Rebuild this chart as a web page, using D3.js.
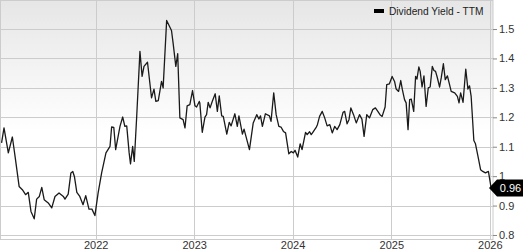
<!DOCTYPE html>
<html><head><meta charset="utf-8">
<script src="https://cdn.jsdelivr.net/npm/d3@7"></script>
<style>
html,body{margin:0;padding:0;background:#fff;}
svg{display:block;font-family:"Liberation Sans",Arial,Helvetica,sans-serif;}
</style></head>
<body>
<svg id="chart" width="527" height="250"></svg>
<script>
const seriesName = "Dividend Yield - TTM";
const lastLabel = "0.96";
const yTicks = [0.8, 0.9, 1.0, 1.1, 1.2, 1.3, 1.4, 1.5];
const xTickYears = ["2022", "2023", "2024", "2025", "2026"];
const dates = [
"2021-01-17","2021-01-26","2021-02-11","2021-02-26","2021-03-08","2021-03-23","2021-04-04","2021-04-16","2021-04-26","2021-05-06",
"2021-05-18","2021-05-27","2021-06-06","2021-06-15","2021-06-24","2021-07-09","2021-07-22","2021-08-03","2021-08-18","2021-09-03",
"2021-09-09","2021-09-21","2021-10-01","2021-10-08","2021-10-14","2021-10-23","2021-11-03","2021-11-15","2021-11-25","2021-12-07",
"2021-12-18","2021-12-29","2022-01-10","2022-01-23","2022-02-08","2022-02-23","2022-03-01","2022-03-09","2022-03-16","2022-04-01",
"2022-04-11","2022-04-19","2022-04-26","2022-05-05","2022-05-10","2022-05-18","2022-05-24","2022-06-02","2022-06-14","2022-06-22",
"2022-06-29","2022-07-12","2022-07-27","2022-08-05","2022-08-12","2022-08-21","2022-09-02","2022-09-08","2022-09-21","2022-10-09",
"2022-10-15","2022-10-25","2022-11-01","2022-11-09","2022-11-21","2022-11-28","2022-12-06","2022-12-16","2022-12-26","2023-01-04",
"2023-01-10","2023-01-20","2023-01-22","2023-01-31","2023-02-10","2023-02-16","2023-02-22","2023-03-01","2023-03-09","2023-03-20",
"2023-03-28","2023-04-04","2023-04-13","2023-04-19","2023-05-02","2023-05-11","2023-05-18","2023-06-01","2023-06-10","2023-06-16",
"2023-06-29","2023-07-05","2023-07-25","2023-08-08","2023-08-21","2023-08-29","2023-09-04","2023-09-11","2023-09-22","2023-10-07",
"2023-10-13","2023-10-23","2023-11-01","2023-11-11","2023-11-19","2023-11-28","2023-12-06","2023-12-18","2023-12-27","2024-01-04",
"2024-01-10","2024-01-20","2024-01-29","2024-02-05","2024-02-18","2024-02-24","2024-03-04","2024-03-10","2024-03-16","2024-03-29",
"2024-04-02","2024-04-10","2024-04-20","2024-04-29","2024-05-08","2024-05-18","2024-05-27","2024-06-05","2024-06-14","2024-06-24",
"2024-07-06","2024-07-12","2024-07-21","2024-07-28","2024-08-04","2024-08-14","2024-08-24","2024-09-05","2024-09-14","2024-09-22",
"2024-10-02","2024-10-12","2024-10-24","2024-11-03","2024-11-12","2024-11-20","2024-11-28","2024-12-09","2024-12-15","2024-12-25",
"2025-01-04","2025-01-13","2025-01-19","2025-01-28","2025-02-05","2025-02-11","2025-02-19","2025-02-25","2025-03-04","2025-03-10",
"2025-03-16","2025-03-25","2025-04-01","2025-04-06","2025-04-13","2025-04-18","2025-04-25","2025-05-02","2025-05-10","2025-05-18",
"2025-05-25","2025-06-02","2025-06-08","2025-06-14","2025-06-20","2025-06-29","2025-07-05","2025-07-13","2025-07-20","2025-07-28",
"2025-08-02","2025-08-11","2025-08-24","2025-09-03","2025-09-09","2025-09-15","2025-09-24","2025-10-04","2025-10-12","2025-10-18",
"2025-10-24","2025-11-03","2025-11-09","2025-11-18","2025-11-28","2025-12-06","2025-12-16","2025-12-27","2026-01-06"
];
const values = [
1.113,1.164,1.079,1.133,1.067,0.965,0.954,0.937,0.945,0.880,
0.855,0.922,0.931,0.962,0.920,0.909,0.892,0.931,0.943,0.931,
0.922,0.939,1.011,1.016,0.999,0.945,0.931,0.903,0.934,0.888,
0.888,0.866,0.943,1.011,1.079,1.101,1.167,1.166,1.090,1.169,
1.201,1.169,1.171,1.079,1.042,1.101,1.050,1.203,1.424,1.339,
1.373,1.387,1.266,1.296,1.254,1.257,1.322,1.300,1.529,1.495,
1.452,1.373,1.416,1.198,1.192,1.164,1.239,1.243,1.291,1.239,
1.235,1.254,1.249,1.149,1.201,1.209,1.251,1.232,1.254,1.280,
1.220,1.273,1.205,1.203,1.143,1.183,1.171,1.212,1.169,1.205,
1.143,1.160,1.090,1.181,1.209,1.194,1.205,1.169,1.212,1.205,
1.186,1.283,1.209,1.169,1.167,1.152,1.147,1.076,1.084,1.079,
1.088,1.065,1.110,1.090,1.149,1.141,1.151,1.141,1.149,1.167,
1.175,1.203,1.220,1.198,1.171,1.175,1.147,1.169,1.158,1.175,
1.217,1.220,1.178,1.192,1.232,1.209,1.181,1.209,1.194,1.135,
1.209,1.198,1.226,1.232,1.220,1.209,1.203,1.235,1.311,1.314,
1.339,1.322,1.296,1.288,1.325,1.294,1.260,1.249,1.158,1.260,
1.262,1.220,1.339,1.330,1.371,1.356,1.303,1.341,1.237,1.300,
1.303,1.373,1.359,1.356,1.337,1.303,1.334,1.382,1.328,1.341,
1.322,1.288,1.283,1.271,1.249,1.283,1.251,1.364,1.296,1.307,
1.271,1.121,1.110,1.069,1.022,1.016,1.011,1.016,0.960
];

const parse = d3.timeParse("%Y-%m-%d");
const data = dates.map((d, i) => ({date: parse(d), value: values[i]}));

const svg = d3.select("#chart");
const plot = {left: 0.5, right: 493, top: 0.5, bottom: 239.5};

const x = d3.scaleTime()
  .domain([parse("2021-01-13"), parse("2026-01-13")])
  .range([plot.left, plot.right]);
const y = d3.scaleLinear()
  .domain([0.7847, 1.597])
  .range([plot.bottom, plot.top]);

// background gradient
const defs = svg.append("defs");
const grad = defs.append("linearGradient").attr("id", "bg")
  .attr("x1", 0).attr("y1", 0).attr("x2", 0).attr("y2", 1);
grad.append("stop").attr("offset", "0%").attr("stop-color", "#e6e6e6");
grad.append("stop").attr("offset", "55%").attr("stop-color", "#ffffff");
grad.append("stop").attr("offset", "100%").attr("stop-color", "#ffffff");

svg.append("rect")
  .attr("x", plot.left).attr("y", plot.top)
  .attr("width", plot.right - plot.left).attr("height", plot.bottom - plot.top)
  .attr("fill", "url(#bg)");

// horizontal grid
svg.append("g").selectAll("line").data(yTicks).join("line")
  .attr("x1", plot.left).attr("x2", plot.right)
  .attr("y1", d => Math.round(y(d)) + 0.5).attr("y2", d => Math.round(y(d)) + 0.5)
  .attr("stroke", "#cccccc").attr("stroke-width", 1);

// vertical grid
const yearDates = xTickYears.map(s => parse(s + "-01-01"));
svg.append("g").selectAll("line").data(yearDates).join("line")
  .attr("x1", d => Math.round(x(d)) + 0.5).attr("x2", d => Math.round(x(d)) + 0.5)
  .attr("y1", plot.top).attr("y2", plot.bottom)
  .attr("stroke", "#cccccc").attr("stroke-width", 1);

// frame
svg.append("rect")
  .attr("x", plot.left).attr("y", plot.top)
  .attr("width", plot.right - plot.left).attr("height", plot.bottom - plot.top)
  .attr("fill", "none").attr("stroke", "#cccccc").attr("stroke-width", 1);

// y axis on right
const yAxis = d3.axisRight(y).tickValues(yTicks).tickSize(4).tickPadding(2)
  .tickFormat(d => d3.format("")(+d.toFixed(1)));
const gy = svg.append("g").attr("transform", `translate(${plot.right},0)`).call(yAxis);
gy.select(".domain").remove();
gy.selectAll(".tick line").attr("stroke", "#888");
gy.selectAll(".tick text").attr("fill", "#333").style("font-size", "11px")
  .style("font-family", '"Liberation Sans",Arial,sans-serif');

// x axis labels
const xAxis = d3.axisBottom(x).tickValues(yearDates).tickSize(0).tickPadding(2)
  .tickFormat((d, i) => xTickYears[i]);
const gx = svg.append("g").attr("transform", `translate(0,${plot.bottom})`).call(xAxis);
gx.select(".domain").remove();
gx.selectAll(".tick text").attr("fill", "#333").style("font-size", "11px")
  .style("font-family", '"Liberation Sans",Arial,sans-serif');

// line
const line = d3.line().x(d => x(d.date)).y(d => y(d.value));
svg.append("path").datum(data)
  .attr("d", line).attr("fill", "none")
  .attr("stroke", "#1a1a1a").attr("stroke-width", 1.3)
  .attr("stroke-linejoin", "round");

// legend
const lg = svg.append("g");
lg.append("rect").attr("x", 374).attr("y", 9).attr("width", 10).attr("height", 4).attr("fill", "#000");
lg.append("text").attr("x", 389).attr("y", 15).text(seriesName)
  .attr("fill", "#222").style("font-size", "10.2px");

// last value marker
const last = data[data.length - 1];
const ly = y(last.value);
const lx = plot.right - 4;
const tag = svg.append("g");
tag.append("path")
  .attr("d", `M${lx},${ly} L${lx + 8},${ly - 8.5} L${lx + 34},${ly - 8.5} L${lx + 34},${ly + 8.5} L${lx + 8},${ly + 8.5} Z`)
  .attr("fill", "#000");
tag.append("text").attr("x", lx + 21.5).attr("y", ly).attr("dy", "0.36em")
  .attr("text-anchor", "middle").attr("fill", "#fff").style("font-size", "11px")
  .text(lastLabel);
</script>
</body></html>
